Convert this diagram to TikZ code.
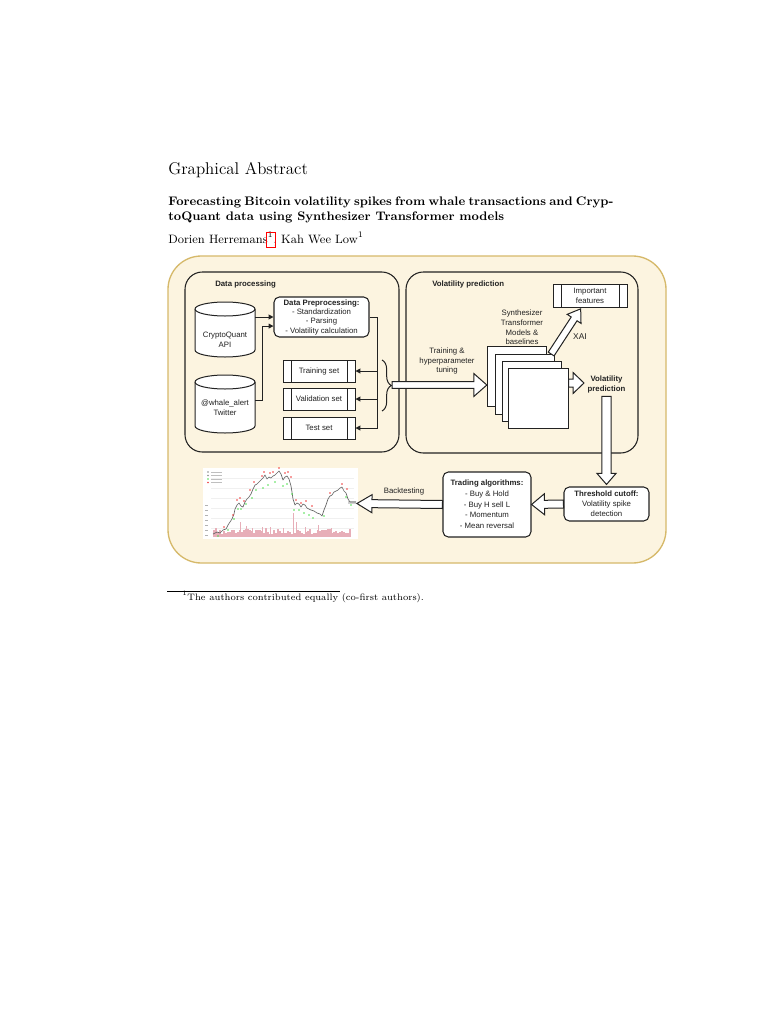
\documentclass[tikz,border=0pt]{standalone}
\usepackage{fontspec}
\newfontfamily\dsf{Liberation Sans}
\usetikzlibrary{calc,arrows.meta,decorations.pathreplacing}
\definecolor{outerfill}{HTML}{FCF4E0}
\definecolor{outerdraw}{HTML}{D6B96A}
\definecolor{ink}{HTML}{222222}
\definecolor{volpink}{HTML}{E7AEB8}
\definecolor{dotred}{HTML}{F03A3A}
\definecolor{dotgreen}{HTML}{4FE04F}
% hollow (block) arrow: start, tip, shaft half width, head half width, head length
\newcommand{\harrow}[5]{%
  \coordinate (hA) at (#1);
  \coordinate (hB) at (#2);
  \coordinate (hH) at ($(hB)!#5!(hA)$);
  \filldraw[harrowstyle] ($(hA)!#3!90:(hB)$) -- ($(hH)!#3!-90:(hA)$) -- ($(hH)!#4!-90:(hA)$) -- (hB)
     -- ($(hH)!#4!90:(hA)$) -- ($(hH)!#3!90:(hA)$) -- ($(hA)!#3!-90:(hB)$) -- cycle;
}
\tikzset{
  dfont/.style={font=\dsf\fontsize{5.85}{7.3}\selectfont},
  lbl/.style={dfont, align=center, inner sep=0pt, text=ink},
  grplbl/.style={font=\dsf\bfseries\fontsize{5.85}{7.3}\selectfont, inner sep=0pt, text=ink, anchor=base west},
  grpbox/.style={draw=ink, line width=0.8pt, rounded corners=13pt, inner sep=0pt},
  rbox/.style={draw=ink, fill=white, line width=0.8pt, rounded corners=4pt, align=center, inner sep=0pt, text=ink, dfont},
  procbox/.style={draw=ink, fill=white, line width=0.75pt, minimum width=54pt, minimum height=16.5pt,
     inner sep=0pt, dfont, text=ink,
     path picture={\draw[ink, line width=0.75pt]
       ([xshift=6pt]path picture bounding box.north west) -- ([xshift=6pt]path picture bounding box.south west)
       ([xshift=-5.5pt]path picture bounding box.north east) -- ([xshift=-5.5pt]path picture bounding box.south east);}},
  sq/.style={draw=ink, fill=white, line width=0.75pt, minimum width=44.5pt, minimum height=45pt, inner sep=0pt},
  cylstyle/.style={draw=ink, fill=white, line width=0.75pt},
  cyltext/.style={lbl, minimum width=45pt},
  conn/.style={draw=ink, line width=0.75pt, -{Triangle[length=3.6pt,width=3.6pt]}},
  harrowstyle/.style={draw=ink, fill=white, line width=0.75pt},
  maintext/.style={anchor=base west, inner sep=0pt},
}
\begin{document}
\begin{tikzpicture}[x=0.75pt,y=0.75pt]
\useasboundingbox (0,0) rectangle (768,-1024);
\fill[white] (0,0) rectangle (768,-1024);

% ---------- header text ----------
\node[maintext, font=\fontsize{12.7}{15}\selectfont] (ga) at (168,-174) {Graphical Abstract};
\node[maintext, font=\fontsize{9.3}{11}\selectfont\bfseries] (t1) at (168,-205)
  {\makebox[333pt][s]{Forecasting Bitcoin volatility spikes from whale transactions and Cryp-}};
\node[maintext, font=\fontsize{9.3}{11}\selectfont\bfseries] (t2) at (168,-220)
  {toQuant data using Synthesizer Transformer models};
\node[maintext, font=\fontsize{9.1}{11}\selectfont] (au) at (168,-243)
  {Dorien Herremans\textsuperscript{1}, Kah Wee Low\textsuperscript{1}};
\draw[red, line width=0.6pt] (266,-232) rectangle (275,-247);

% ---------- outer panel ----------
\node[draw=outerdraw, fill=outerfill, line width=1pt, rounded corners=25pt,
      minimum width=373.5pt, minimum height=230.25pt, inner sep=0pt] (outer) at (417,-409.5) {};

% group boxes
\node[grpbox, minimum width=160.5pt, minimum height=135pt] (dp) at (292,-362) {};
\node[grpbox, minimum width=174pt, minimum height=135.75pt] (vpbox) at (522,-362.5) {};
\node[grplbl] (dplbl) at (215,-286) {Data processing};
\node[grplbl] (vplbl) at (432,-286) {Volatility prediction};

% cylinders
\filldraw[cylstyle] (195,-309) -- (195,-350) arc[start angle=180, end angle=360, x radius=22.5pt, y radius=5.25pt]
   -- (255,-309) arc[start angle=0, end angle=180, x radius=22.5pt, y radius=5.25pt] -- cycle;
\draw[cylstyle] (195,-309) arc[start angle=180, end angle=360, x radius=22.5pt, y radius=5.25pt];
\node[cyltext] (cq) at (225,-340) {CryptoQuant\\API};

\filldraw[cylstyle] (195,-382) -- (195,-426) arc[start angle=180, end angle=360, x radius=22.5pt, y radius=5.25pt]
   -- (255,-382) arc[start angle=0, end angle=180, x radius=22.5pt, y radius=5.25pt] -- cycle;
\draw[cylstyle] (195,-382) arc[start angle=180, end angle=360, x radius=22.5pt, y radius=5.25pt];
\node[cyltext] (wa) at (225,-407.5) {@whale\_alert\\Twitter};

% preprocessing
\node[rbox, minimum width=71.25pt, minimum height=30pt, font=\dsf\fontsize{5.85}{7}\selectfont] (pre) at (321.5,-317)
  {\textbf{Data Preprocessing:}\\- Standardization\\- Parsing\\- Volatility calculation};

% sets
\node[procbox] (tr) at (319,-371) {Training set};
\node[procbox] (va) at (319,-399) {Validation set};
\node[procbox] (te) at (319,-428) {Test set};

% connectors
\draw[conn] (cq.east |- pre.west) -- (pre.west);
\coordinate (pin2) at ([yshift=-6.8pt]pre.west);
\draw[conn] ([yshift=5.6pt]wa.east) -| ($(pin2)+(-11,0)$) -- (pin2);
\coordinate (busx) at (377,-317);
\draw[conn] (pre.east) -- (busx) |- (te.east);
\draw[conn] (busx |- tr.east) -- (tr.east);
\draw[conn] (busx |- va.east) -- (va.east);

% brace
\draw[ink, line width=0.75pt, decorate, decoration={brace, amplitude=7pt}] (382,-360) -- (382,-411);
\coordinate (bt) at (392,-385);

% stack of models
\node[sq] (st1) at (517,-376.5) {};
\node[sq] (st2) at (525,-384.5) {};
\node[sq] (st3) at (532,-391.5) {};
\node[sq] (st4) at (538.5,-398) {};

\node[lbl] (tht) at (447,-361) {Training \&\\hyperparameter\\tuning};
\node[lbl] (syn) at (522,-327.5) {Synthesizer\\Transformer\\Models \&\\baselines};
\node[procbox, minimum width=55.5pt, minimum height=17.25pt, align=center, font=\dsf\fontsize{5.85}{7.3}\selectfont] (imp) at (590,-295.5) {Important\\features};
\node[lbl, font=\dsf\fontsize{6.3}{7.3}\selectfont] (xai) at (580,-337) {XAI};
\node[lbl, font=\dsf\bfseries\fontsize{5.85}{7.9}\selectfont] (vp) at (606.5,-384.5) {Volatility\\prediction};

% threshold and trading
\node[rbox, minimum width=63.75pt, minimum height=25.5pt, font=\dsf\fontsize{5.85}{7.5}\selectfont] (th) at (606.5,-504)
  {\textbf{Threshold cutoff:}\\Volatility spike\\detection};
\node[rbox, minimum width=66pt, minimum height=48.75pt, font=\dsf\fontsize{5.85}{8}\selectfont] (tra) at (487,-504.5)
  {\textbf{Trading algorithms:}\\- Buy \& Hold\\- Buy H sell L\\- Momentum\\- Mean reversal};

% chart
\node[fill=white, minimum width=116.25pt, minimum height=53.25pt, inner sep=0pt] (chart) at (280.5,-503.5) {};
\foreach \yy in {478,488,...,528} \draw[black!6, line width=0.3pt] (211,-\yy) -- (354,-\yy);
\foreach \yy in {505,510,...,535} \fill[black!30] (205,-\yy) rectangle ++(3,-0.8);
\foreach \yy/\cc in {472/black!45,475.5/black!45,479/dotgreen,482.5/dotred}{
  \fill[\cc] (208,-\yy) circle (0.8);
  \fill[black!25] (211,-\yy+0.4) rectangle ++(11,-0.8);}
\fill[black!12] (213,-537) rectangle (350,-535.5);
\pgfmathsetseed{11}
\foreach \i in {0,2,...,136}{\pgfmathsetmacro{\hh}{3+6*rnd}
  \fill[volpink] (213+\i,-537) rectangle ++(1.5,\hh);}
\foreach \xx/\hh in {240/15,246/11,252/9,262/10,270/10,283/9,293/24,296/15,305/10,318/12,331/9}
  \fill[volpink] (\xx,-537) rectangle ++(1.2,\hh);
\fill[black!18] (348,-500.5) rectangle (356,-504);
\draw[black!60, line width=0.5pt, line join=round] plot coordinates {
 (213,-534) (217,-532) (220,-533) (223,-530) (226,-529) (228,-525) (230,-522) (232,-519) (234,-514)
 (235,-509) (237,-505) (239,-503) (241,-506) (243,-507) (245,-502) (247,-499) (249,-497) (251,-494)
 (253,-489) (255,-485) (257,-484) (259,-482) (261,-480) (263,-478) (265,-475) (267,-479) (269,-477)
 (271,-478) (273,-476) (275,-475) (277,-473) (279,-471) (281,-474) (283,-480) (285,-477) (287,-476)
 (289,-479) (291,-486) (292,-492) (293,-499) (295,-505) (297,-503) (299,-504) (301,-507) (303,-504)
 (305,-505) (307,-508) (309,-509) (311,-510) (314,-511) (317,-513) (320,-514) (322,-516) (324,-510)
 (326,-505) (328,-499) (330,-496) (332,-495) (334,-492) (336,-491) (338,-490) (340,-488) (342,-487)
 (344,-491) (346,-493) (348,-499) (350,-502) (356,-502)};
\foreach \p in {(224,-527),(233,-515),(237,-500),(240,-498),(244,-501),(250,-490),(254,-482),(262,-476),
  (264,-472),(270,-473),(273,-472),(279,-468),(285,-473),(288,-472),(291,-477),(296,-500),(301,-503),
  (306,-501),(312,-506),(330,-493),(342,-484),(347,-489)}
  \fill[dotred] \p circle (0.9);
\foreach \p in {(218,-536),(228,-530),(234,-519),(238,-509),(241,-509),(246,-504),(252,-498),(256,-490),
  (263,-488),(268,-485),(275,-482),(283,-486),(287,-484),(292,-494),(294,-510),(299,-510),(304,-513),
  (309,-515),(313,-518),(324,-516),(346,-497),(351,-505)}
  \fill[dotgreen] \p circle (0.9);

\node[lbl] (bk) at (404,-491) {Backtesting};

% hollow arrows
\harrow{bt}{st1.west |- bt}{2.6pt}{8.6pt}{9.75pt}
\harrow{st4.east |- 0,-383}{584,-383}{3pt}{7.9pt}{8.25pt}
\harrow{[xshift=-3]st2.north east}{[xshift=-7,yshift=-1]imp.south}{2.6pt}{6.2pt}{9pt}
\harrow{[yshift=-2]vp.south}{[yshift=1.5]th.north}{3.4pt}{7.1pt}{8.25pt}
\harrow{th.west}{tra.east}{3pt}{7.9pt}{9.75pt}
\harrow{tra.west}{[xshift=-1]chart.east}{3pt}{6.75pt}{11.25pt}

% footnote
\draw[line width=0.4pt] (167,-591) -- (340,-591);
\node[maintext, font=\fontsize{7}{8.5}\selectfont] (fn) at (182,-600)
  {\textsuperscript{1}The authors contributed equally (co-first authors).};
\end{tikzpicture}
\end{document}
